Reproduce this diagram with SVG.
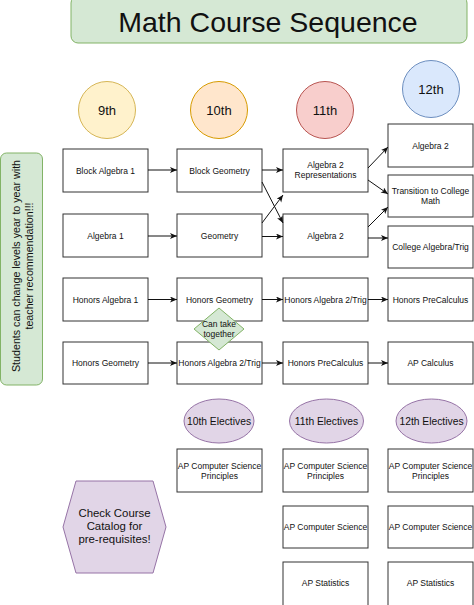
<svg xmlns="http://www.w3.org/2000/svg" width="474" height="605" viewBox="0 0 474 605">
<defs>
<marker id="arr" markerUnits="userSpaceOnUse" markerWidth="8" markerHeight="7" refX="7" refY="3" orient="auto">
<path d="M0,0 L7,3 L0,6 L1.8,3 z" fill="#111"/>
</marker>
<style>
text{font-family:"Liberation Sans",Arial,Helvetica,sans-serif;fill:#111}
.box{fill:#fff;stroke:#333;stroke-width:1}
.bt{font-size:8.5px;text-anchor:middle}
.grade{font-size:13px;text-anchor:middle}
.ele{fill:#e1d5e7;stroke:#9673a6;stroke-width:1}
.et{font-size:10.3px;text-anchor:middle}
.green{fill:#d5e8d4;stroke:#82b366;stroke-width:1}
.conn line{stroke:#111;stroke-width:1;marker-end:url(#arr)}
</style>
</defs>
<rect width="474" height="605" fill="#fff"/>

<g id="title">
<rect class="green" x="71" y="-4" width="396" height="47" rx="7"/>
<text x="268" y="32" font-size="28.5" text-anchor="middle">Math Course Sequence</text>
</g>

<g id="side-note">
<rect class="green" x="0.5" y="153" width="42" height="232" rx="6"/>
<text transform="translate(20,266) rotate(-90)" font-size="10.7" text-anchor="middle"><tspan x="0" y="0">Students can change levels year to year with</tspan><tspan x="0" y="13">teacher recommendation!!!</tspan></text>
</g>

<g id="g9"><circle cx="107" cy="110" r="28.5" fill="#fff2cc" stroke="#d6b656"/><text class="grade" x="107" y="114.6">9th</text></g>
<g id="g10"><circle cx="219" cy="110" r="28.5" fill="#ffe6cc" stroke="#d79b00"/><text class="grade" x="219" y="114.6">10th</text></g>
<g id="g11"><circle cx="325" cy="110" r="28.5" fill="#f8cecc" stroke="#b85450"/><text class="grade" x="325" y="114.6">11th</text></g>
<g id="g12"><circle cx="431" cy="89" r="28.5" fill="#dae8fc" stroke="#6c8ebf"/><text class="grade" x="431" y="93.6">12th</text></g>

<g id="block-alg1"><rect class="box" x="63" y="149" width="85" height="43"/><text class="bt" x="105.5" y="173.5">Block Algebra 1</text></g>
<g id="block-geo"><rect class="box" x="177" y="149" width="85" height="43"/><text class="bt" x="219.5" y="173.5">Block Geometry</text></g>
<g id="alg2-rep"><rect class="box" x="283" y="149" width="85" height="43"/><text class="bt" x="325.5" y="168">Algebra 2</text><text class="bt" x="325.5" y="178">Representations</text></g>

<g id="alg1"><rect class="box" x="63" y="214" width="85" height="43"/><text class="bt" x="105.5" y="238.5">Algebra 1</text></g>
<g id="geo"><rect class="box" x="177" y="214" width="85" height="43"/><text class="bt" x="219.5" y="238.5">Geometry</text></g>
<g id="alg2"><rect class="box" x="283" y="214" width="85" height="43"/><text class="bt" x="325.5" y="238.5">Algebra 2</text></g>

<g id="alg2-12"><rect class="box" x="388" y="124" width="85" height="43"/><text class="bt" x="430.5" y="148.5">Algebra 2</text></g>
<g id="transition"><rect class="box" x="388" y="175" width="85" height="42"/><text class="bt" x="430.5" y="194">Transition to College</text><text class="bt" x="430.5" y="203.5">Math</text></g>
<g id="college-alg"><rect class="box" x="388" y="226" width="85" height="42"/><text class="bt" x="430.5" y="250">College Algebra/Trig</text></g>

<g id="h-alg1"><rect class="box" x="63" y="278" width="85" height="43"/><text class="bt" x="105.5" y="302.5">Honors Algebra 1</text></g>
<g id="h-geo10"><rect class="box" x="177" y="278" width="85" height="43"/><text class="bt" x="219.5" y="302.5">Honors Geometry</text></g>
<g id="h-alg2-11"><rect class="box" x="283" y="278" width="85" height="43"/><text class="bt" x="325.5" y="302.5">Honors Algebra 2/Trig</text></g>
<g id="h-precalc12"><rect class="box" x="388" y="278" width="85" height="43"/><text class="bt" x="430.5" y="302.5">Honors PreCalculus</text></g>

<g id="h-geo9"><rect class="box" x="63" y="342" width="85" height="42"/><text class="bt" x="105.5" y="366">Honors Geometry</text></g>
<g id="h-alg2-10"><rect class="box" x="177" y="342" width="85" height="42"/><text class="bt" x="219.5" y="366">Honors Algebra 2/Trig</text></g>
<g id="h-precalc11"><rect class="box" x="283" y="342" width="85" height="42"/><text class="bt" x="325.5" y="366">Honors PreCalculus</text></g>
<g id="ap-calc"><rect class="box" x="388" y="342" width="85" height="42"/><text class="bt" x="430.5" y="366">AP Calculus</text></g>

<g id="can-take">
<polygon points="219,308 244,329 219,350 194,329" fill="#d5e8d4" stroke="#82b366"/>
<text class="bt" x="219" y="327">Can take</text><text class="bt" x="219" y="337">together</text>
</g>

<g id="e10"><ellipse class="ele" cx="219" cy="421" rx="35" ry="22"/><text class="et" x="219" y="425">10th Electives</text></g>
<g id="e11"><ellipse class="ele" cx="326.5" cy="421" rx="37" ry="22"/><text class="et" x="326.5" y="425">11th Electives</text></g>
<g id="e12"><ellipse class="ele" cx="431.5" cy="421" rx="35.5" ry="22"/><text class="et" x="431.5" y="425">12th Electives</text></g>

<g id="apcsp10"><rect class="box" x="177" y="449" width="85" height="43"/><text class="bt" x="219.5" y="469">AP Computer Science</text><text class="bt" x="219.5" y="479">Principles</text></g>
<g id="apcsp11"><rect class="box" x="283" y="449" width="85" height="43"/><text class="bt" x="325.5" y="469">AP Computer Science</text><text class="bt" x="325.5" y="479">Principles</text></g>
<g id="apcsp12"><rect class="box" x="388" y="449" width="85" height="43"/><text class="bt" x="430.5" y="469">AP Computer Science</text><text class="bt" x="430.5" y="479">Principles</text></g>
<g id="apcs11"><rect class="box" x="283" y="506" width="85" height="42"/><text class="bt" x="325.5" y="530">AP Computer Science</text></g>
<g id="apcs12"><rect class="box" x="388" y="506" width="85" height="42"/><text class="bt" x="430.5" y="530">AP Computer Science</text></g>
<g id="apstat11"><rect class="box" x="283" y="562" width="85" height="45"/><text class="bt" x="325.5" y="586">AP Statistics</text></g>
<g id="apstat12"><rect class="box" x="388" y="562" width="85" height="45"/><text class="bt" x="430.5" y="586">AP Statistics</text></g>

<g id="check-catalog">
<polygon points="76,481 153,481 166,527 153,573 76,573 63,527" fill="#e1d5e7" stroke="#9673a6"/>
<text x="114.5" y="517" font-size="11.4" text-anchor="middle">Check Course</text>
<text x="114.5" y="530" font-size="11.4" text-anchor="middle">Catalog for</text>
<text x="114.5" y="543" font-size="11.4" text-anchor="middle">pre-requisites!</text>
</g>

<g id="connectors" class="conn">
<line x1="148" y1="170" x2="177" y2="170"/>
<line x1="148" y1="236" x2="177" y2="236"/>
<line x1="262" y1="170" x2="283" y2="170"/>
<line x1="262" y1="182" x2="283" y2="223"/>
<line x1="262" y1="223" x2="283" y2="195"/>
<line x1="262" y1="236.5" x2="283" y2="236.5"/>
<line x1="368" y1="168" x2="388" y2="147"/>
<line x1="368" y1="180" x2="388" y2="194"/>
<line x1="368" y1="227" x2="388" y2="207"/>
<line x1="368" y1="238" x2="388" y2="238"/>
<line x1="148" y1="299.5" x2="177" y2="299.5"/>
<line x1="262" y1="299.5" x2="283" y2="299.5"/>
<line x1="368" y1="299.5" x2="388" y2="299.5"/>
<line x1="148" y1="363" x2="177" y2="363"/>
<line x1="262" y1="363" x2="283" y2="363"/>
<line x1="368" y1="363" x2="388" y2="363"/>
</g>
</svg>
